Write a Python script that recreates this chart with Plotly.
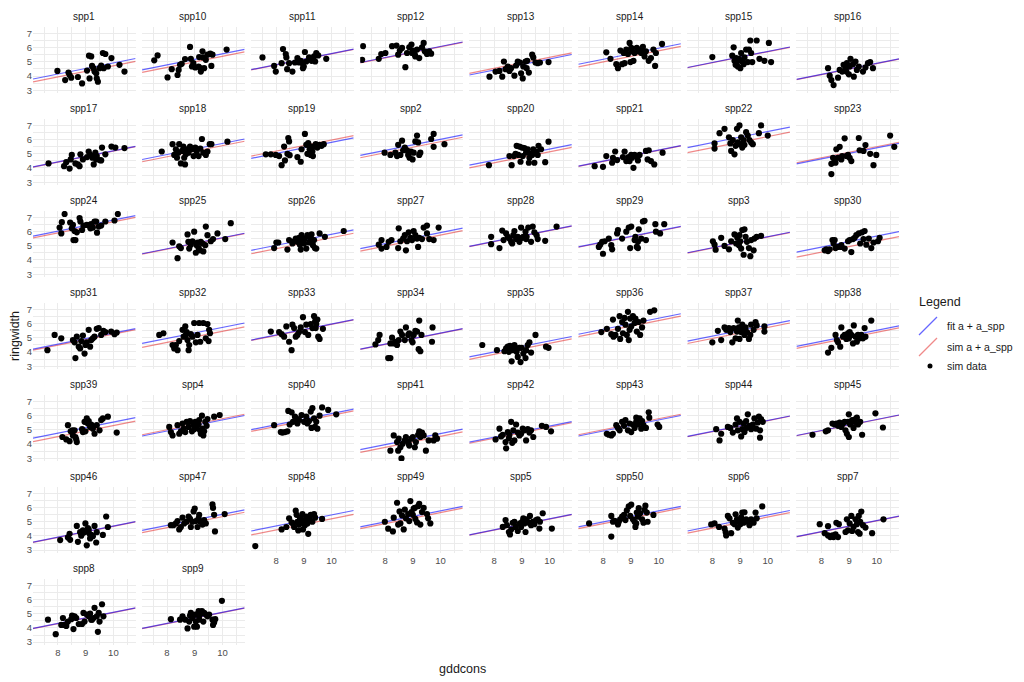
import numpy as np
import plotly.graph_objects as go
from plotly.subplots import make_subplots

# facet order (alphabetical, as in the original)
species = ["spp1", "spp10", "spp11", "spp12", "spp13", "spp14", "spp15", "spp16",
           "spp17", "spp18", "spp19", "spp2", "spp20", "spp21", "spp22", "spp23",
           "spp24", "spp25", "spp26", "spp27", "spp28", "spp29", "spp3", "spp30",
           "spp31", "spp32", "spp33", "spp34", "spp35", "spp36", "spp37", "spp38",
           "spp39", "spp4", "spp40", "spp41", "spp42", "spp43", "spp44", "spp45",
           "spp46", "spp47", "spp48", "spp49", "spp5", "spp50", "spp6", "spp7",
           "spp8", "spp9"]

# sim data: gddcons per species
gdd = [
    [7.98,8.26,8.38,8.42,8.48,8.72,8.87,9.05,9.14,9.2,9.23,9.28,9.32,9.4,9.44,9.5,9.56,9.62,9.71,9.65,9.8,9.93,10.22,10.4,9.38,9.12],
    [7.54,7.66,8.02,8.17,8.38,8.42,8.47,8.53,8.65,8.83,8.86,8.9,8.95,9.02,9.14,9.16,9.2,9.22,9.28,9.3,9.4,9.46,9.56,9.6,9.64,10.15,9.34],
    [7.51,7.93,7.99,8.2,8.25,8.35,8.37,8.4,8.47,8.59,8.68,8.77,8.83,8.89,8.95,9.0,9.04,9.09,9.19,9.28,9.37,9.41,9.45,9.52,9.81,8.97],
    [7.17,7.2,7.77,7.86,8.01,8.25,8.41,8.47,8.53,8.61,8.73,8.79,8.87,8.95,8.97,9.0,9.07,9.15,9.23,9.33,9.39,9.43,9.51,9.59,9.66,9.09],
    [7.83,8.05,8.19,8.29,8.35,8.41,8.49,8.55,8.61,8.73,8.79,8.85,8.93,8.97,9.03,9.05,9.13,9.19,9.25,9.37,9.41,9.49,9.57,9.65,9.96,9.17],
    [8.11,8.26,8.53,8.62,8.68,8.74,8.77,8.83,8.89,8.95,8.98,9.01,9.04,9.09,9.13,9.21,9.28,9.33,9.37,9.43,9.49,9.54,9.64,9.72,9.81,9.87,9.9,10.12,8.47],
    [8.0,8.72,8.77,8.8,8.84,8.89,8.92,8.96,9.01,9.04,9.08,9.13,9.16,9.22,9.28,9.32,9.37,9.4,9.44,9.6,9.7,9.88,10.04,10.12,8.86],
    [8.24,8.3,8.36,8.44,8.6,8.66,8.75,8.8,8.87,8.92,8.99,9.02,9.05,9.14,9.17,9.23,9.28,9.35,9.5,9.59,9.68,9.76,9.86,8.9],
    [7.66,8.22,8.3,8.42,8.46,8.5,8.63,8.72,8.78,8.81,8.9,9.05,9.11,9.17,9.24,9.29,9.35,9.4,9.52,9.59,9.56,9.71,9.93,10.07,10.4,9.38],
    [7.81,8.2,8.26,8.32,8.36,8.41,8.44,8.5,8.54,8.59,8.65,8.68,8.72,8.78,8.83,8.9,8.96,9.02,9.07,9.14,9.2,9.26,9.31,9.4,9.46,9.54,9.6,10.18,8.62,8.32],
    [7.63,7.81,7.99,8.11,8.2,8.29,8.32,8.41,8.44,8.47,8.49,8.77,8.89,8.92,9.04,9.09,9.13,9.16,9.21,9.25,9.28,9.33,9.37,9.43,9.49,9.57,9.64,9.72,9.31],
    [7.98,8.19,8.37,8.43,8.47,8.55,8.61,8.65,8.71,8.83,8.88,8.93,8.99,9.03,9.09,9.15,9.19,9.23,9.27,9.66,9.75,9.75,10.14,8.79],
    [7.81,8.55,8.63,8.71,8.77,8.81,8.87,8.91,8.95,9.0,9.03,9.09,9.15,9.21,9.25,9.31,9.37,9.41,9.45,9.51,9.57,9.6,9.69,9.84,9.96,9.27],
    [7.69,7.99,8.11,8.32,8.35,8.43,8.5,8.77,8.83,8.91,8.95,9.01,9.04,9.09,9.13,9.19,9.25,9.31,9.54,9.64,9.6,9.72,9.84,10.14,8.71],
    [8.08,8.08,8.26,8.44,8.6,8.65,8.68,8.74,8.8,8.84,8.89,8.92,8.98,9.04,9.08,9.13,9.16,9.22,9.28,9.34,9.4,9.46,9.68,9.76,10.0,8.98],
    [8.36,8.36,8.42,8.48,8.51,8.54,8.6,8.66,8.75,8.84,8.9,8.96,9.02,9.08,9.35,9.38,9.52,9.59,9.76,9.88,9.98,10.48,10.63,8.72],
    [8.06,8.12,8.14,8.24,8.44,8.5,8.54,8.56,8.6,8.63,8.68,8.78,8.81,8.87,8.92,9.04,9.14,9.2,9.26,9.32,9.38,9.41,9.47,9.56,9.71,10.04,10.16,9.17],
    [8.2,8.38,8.44,8.5,8.74,8.77,8.8,8.86,8.92,8.98,9.04,9.07,9.14,9.19,9.22,9.28,9.31,9.38,9.4,9.46,9.58,9.66,9.82,10.1,10.3,9.1],
    [7.93,8.01,8.08,8.41,8.47,8.59,8.65,8.71,8.77,8.83,8.86,8.89,8.92,8.97,9.01,9.04,9.09,9.13,9.19,9.25,9.28,9.33,9.4,9.45,9.57,9.76,10.44,9.37],
    [7.77,7.87,7.87,8.05,8.13,8.23,8.47,8.49,8.55,8.65,8.71,8.75,8.79,8.85,8.91,8.97,9.03,9.09,9.15,9.19,9.23,9.39,9.51,9.51,9.59,9.75,9.93,9.33],
    [7.89,7.89,8.19,8.29,8.34,8.43,8.49,8.55,8.61,8.65,8.69,8.73,8.79,8.85,8.91,8.97,9.01,9.05,9.13,9.17,9.23,9.33,9.39,9.45,9.53,9.57,9.84,10.25,9.15],
    [7.84,7.89,7.96,7.99,8.05,8.2,8.29,8.32,8.5,8.53,8.68,8.83,8.92,8.97,9.01,9.13,9.16,9.21,9.25,9.28,9.37,9.43,9.49,9.54,9.88,9.9,10.05,10.2,9.25],
    [8.02,8.08,8.12,8.32,8.44,8.6,8.68,8.8,8.86,8.9,8.96,9.01,9.04,9.08,9.13,9.16,9.2,9.25,9.32,9.37,9.4,9.49,9.52,9.6,9.76,8.98],
    [8.12,8.18,8.24,8.3,8.4,8.44,8.48,8.51,8.6,8.72,8.84,8.96,9.02,9.08,9.14,9.2,9.26,9.35,9.4,9.47,9.52,9.56,9.62,9.71,9.8,9.88,10.04,10.1,8.72],
    [7.62,7.88,8.12,8.54,8.6,8.63,8.68,8.75,8.8,8.84,8.9,8.96,8.99,9.04,9.11,9.16,9.2,9.26,9.4,9.47,9.56,9.64,9.71,9.92,10.04,10.12,9.32],
    [7.72,7.87,8.2,8.26,8.32,8.38,8.44,8.56,8.6,8.66,8.71,8.74,8.78,8.8,8.86,8.92,8.98,9.04,9.1,9.16,9.2,9.31,9.4,9.46,9.5,9.52,9.55,8.68],
    [7.81,8.11,8.2,8.29,8.37,8.47,8.56,8.59,8.65,8.71,8.77,8.83,8.89,8.97,9.04,9.09,9.16,9.25,9.31,9.37,9.41,9.45,9.49,9.52,9.57,9.69,9.43],
    [7.65,7.75,7.8,8.11,8.19,8.19,8.25,8.31,8.37,8.43,8.49,8.55,8.61,8.71,8.75,8.83,8.87,8.95,9.03,9.09,9.15,9.21,9.23,9.27,9.31,9.69,9.71,8.99],
    [7.57,8.1,8.37,8.43,8.49,8.53,8.57,8.63,8.67,8.73,8.77,8.81,8.85,8.91,8.95,8.99,9.05,9.13,9.15,9.21,9.27,9.33,9.49,9.87,9.96,8.61],
    [7.93,8.13,8.29,8.35,8.37,8.44,8.53,8.59,8.61,8.68,8.71,8.77,8.8,8.85,8.89,8.92,8.97,9.01,9.07,9.13,9.16,9.21,9.28,9.33,9.4,9.45,9.69,9.84,8.95],
    [8.0,8.2,8.32,8.44,8.5,8.6,8.65,8.72,8.77,8.84,8.89,8.92,8.96,8.98,9.04,9.08,9.13,9.16,9.2,9.25,9.32,9.37,9.4,9.49,9.56,9.6,9.88,9.88,8.98],
    [8.24,8.36,8.51,8.56,8.6,8.68,8.72,8.78,8.84,8.9,8.96,8.99,9.02,9.08,9.14,9.17,9.23,9.28,9.38,9.44,9.5,9.56,9.59,9.8,9.32],
    [8.16,8.3,8.36,8.42,8.46,8.52,8.54,8.6,8.63,8.68,8.66,8.87,8.96,8.99,9.04,9.08,9.11,9.16,9.2,9.26,9.32,9.4,9.5,9.56,9.62,9.8,10.12,8.9],
    [8.08,8.14,8.2,8.38,8.44,8.5,8.56,8.6,8.66,8.71,8.78,8.83,8.9,8.95,8.98,9.02,9.07,9.14,9.19,9.22,9.26,9.28,9.31,9.34,9.38,9.43,9.46,9.7,9.9,9.16],
    [7.93,8.17,8.23,8.32,8.41,8.44,8.49,8.56,8.61,8.68,8.73,8.77,8.83,8.92,9.01,9.09,9.13,9.19,9.25,9.28,9.31,9.37,9.4,9.49,9.57,9.66,9.88,10.17,9.45],
    [8.19,8.31,8.43,8.47,8.49,8.55,8.59,8.63,8.71,8.75,8.83,8.87,8.95,9.0,9.07,9.11,9.19,9.23,9.27,9.33,9.39,9.47,9.57,9.75,9.81,9.87,8.85],
    [8.05,8.19,8.25,8.31,8.41,8.43,8.49,8.55,8.61,8.65,8.69,8.73,8.79,8.85,8.91,8.97,9.03,9.09,9.15,9.21,9.27,9.33,9.41,9.72,9.87,10.05,8.53],
    [8.13,8.2,8.29,8.35,8.47,8.53,8.59,8.68,8.75,8.8,8.89,8.95,9.01,9.07,9.13,9.19,9.25,9.31,9.37,9.4,9.45,9.54,9.64,9.66,9.96,10.02,9.19],
    [8.14,8.26,8.32,8.56,8.65,8.74,8.84,8.89,8.92,8.98,9.04,9.08,9.13,9.16,9.22,9.28,9.34,9.4,9.46,9.52,9.58,9.64,9.68,9.72,9.72,9.76,9.82,9.22],
    [7.68,8.16,8.24,8.4,8.48,8.54,8.6,8.66,8.72,8.78,8.84,8.87,8.92,8.96,8.99,8.99,9.04,9.11,9.16,9.23,9.28,9.32,9.4,9.47,9.95,10.22,9.2],
    [8.08,8.36,8.42,8.44,8.68,8.72,8.8,8.84,8.9,8.96,8.99,9.04,9.08,9.14,9.16,9.2,9.26,9.32,9.38,9.4,9.62,9.74,9.8,9.11,8.87],
    [8.14,8.23,8.32,8.38,8.44,8.5,8.56,8.62,8.71,8.78,8.83,8.86,8.92,8.96,9.0,9.04,9.1,9.14,9.2,9.28,9.34,9.4,9.64,9.66,9.7,9.73,10.08,9.16],
    [7.25,8.2,8.37,8.47,8.56,8.61,8.65,8.71,8.74,8.77,8.8,8.83,8.86,8.92,8.97,9.01,9.04,9.09,9.13,9.16,9.21,9.25,9.31,9.37,9.41,9.66,8.95],
    [7.99,8.11,8.28,8.31,8.43,8.47,8.52,8.55,8.61,8.67,8.71,8.75,8.83,8.87,8.91,8.95,9.0,9.03,9.09,9.15,9.19,9.23,9.27,9.33,9.39,9.51,9.55,9.63,9.07],
    [8.31,8.41,8.46,8.53,8.57,8.61,8.67,8.73,8.77,8.85,8.93,9.01,9.05,9.09,9.13,9.17,9.25,9.29,9.33,9.39,9.45,9.51,9.57,9.63,9.65,9.75,10.08,8.97],
    [7.49,8.29,8.29,8.35,8.41,8.53,8.56,8.61,8.68,8.75,8.8,8.85,8.92,8.97,9.01,9.07,9.13,9.16,9.21,9.25,9.28,9.33,9.4,9.45,9.49,9.52,9.57,9.6,9.81,9.19],
    [7.96,8.08,8.24,8.44,8.48,8.5,8.56,8.62,8.68,8.74,8.8,8.84,8.89,8.92,8.98,9.04,9.08,9.13,9.16,9.22,9.28,9.34,9.4,9.49,9.56,9.6,9.8,9.01],
    [7.94,8.12,8.24,8.24,8.32,8.4,8.44,8.51,8.54,8.6,8.63,8.87,8.92,8.96,9.02,9.08,9.11,9.16,9.23,9.28,9.32,9.35,9.4,9.44,9.5,9.59,9.83,10.24,9.38],
    [7.64,7.92,8.18,8.12,8.24,8.3,8.36,8.48,8.51,8.56,8.6,8.66,8.75,8.87,8.92,8.96,9.04,9.11,9.16,9.23,9.28,9.32,9.4,9.44,9.47,9.5,9.59,9.64,9.2],
    [8.14,8.47,8.56,8.66,8.74,8.8,8.83,8.86,8.92,8.98,9.02,9.04,9.08,9.14,9.16,9.22,9.26,9.31,9.34,9.4,9.46,9.52,9.64,9.66,9.7,9.74,9.98,9.16],
]

# sim data: ringwidth per species
ring = [
    [4.36,3.71,4.24,4.07,3.88,3.93,3.48,4.38,3.83,5.38,4.71,4.55,4.31,3.83,3.6,4.55,4.74,5.62,5.55,4.55,4.67,5.26,4.79,4.31,4.19,5.43],
    [5.1,5.45,3.9,4.48,4.07,4.43,4.79,4.86,5.19,6.05,5.21,4.67,4.9,4.6,4.67,5.33,4.55,4.31,5.74,5.31,5.14,5.5,5.57,4.71,5.5,5.86,4.55],
    [5.31,4.71,4.31,4.9,5.9,5.55,5.31,4.48,4.9,4.31,4.95,5.26,4.95,5.07,4.9,4.67,5.69,5.02,5.31,5.07,5.38,5.02,5.62,5.45,5.21,4.55],
    [5.14,6.1,5.21,5.55,5.62,6.1,6.14,5.5,5.79,5.98,4.62,5.62,6.02,6.21,5.62,5.79,5.5,5.86,5.26,6.02,6.33,5.74,5.55,5.74,5.57,5.38],
    [3.95,4.31,4.36,3.95,5.02,4.48,4.67,4.36,4.55,4.02,4.74,5.02,4.95,4.19,3.83,4.67,5.02,5.07,4.24,5.5,5.31,4.95,4.9,4.95,4.98,4.55],
    [5.67,5.21,4.55,5.79,4.83,5.62,4.9,5.86,5.55,6.33,4.98,5.98,5.74,5.07,5.62,5.98,5.74,5.86,5.62,6.05,5.38,5.74,5.07,5.26,5.86,4.71,5.62,6.26,4.83],
    [5.33,5.43,6.02,5.07,4.79,4.98,4.67,5.21,4.55,5.62,5.02,4.83,5.31,5.86,4.98,5.86,6.5,5.62,4.98,6.5,5.21,5.07,6.33,4.98,5.26],
    [4.55,4.02,3.71,3.36,3.88,4.43,4.31,4.79,4.55,4.9,4.12,4.67,5.21,4.83,3.95,5.02,4.43,4.67,4.31,4.6,4.9,4.98,4.55,4.31],
    [4.32,4.13,4.41,3.96,4.6,4.92,4.32,4.25,4.13,4.96,4.6,4.77,5.16,4.92,4.72,4.25,5.08,4.84,4.55,5.44,4.53,4.96,5.51,5.44,5.4,4.6],
    [5.16,5.68,4.92,5.32,4.72,5.08,5.68,4.32,5.2,5.51,4.25,4.96,5.32,5.08,5.51,5.32,4.84,5.44,5.16,4.84,5.37,6.04,5.08,4.92,5.16,5.68,5.68,5.85,4.72,5.0],
    [4.96,4.96,4.92,4.84,4.2,5.51,4.53,5.0,6.11,5.87,4.9,4.77,4.44,5.32,6.4,5.63,5.0,5.75,5.32,4.92,5.51,4.84,5.51,5.68,5.44,5.63,5.56,5.68,5.16],
    [5.08,4.92,5.08,4.84,5.63,4.92,5.92,5.25,5.44,4.92,4.72,5.16,4.6,5.08,5.87,6.28,5.8,4.92,5.08,6.04,6.4,5.49,5.68,5.25],
    [4.2,4.84,4.2,4.84,5.0,5.56,4.92,5.51,4.44,5.44,4.84,5.4,5.08,5.32,4.37,5.0,4.92,5.32,4.37,5.16,4.92,5.56,5.32,4.41,5.85,4.72],
    [4.13,4.08,4.84,4.37,4.72,5.16,4.56,5.16,4.49,4.77,4.49,4.92,4.72,4.01,4.92,4.84,4.53,4.92,5.2,5.25,4.6,4.49,4.25,5.08,4.77],
    [5.73,5.37,6.45,6.76,6.16,5.73,5.2,5.97,4.96,5.56,6.76,5.8,7.0,6.16,5.44,5.97,5.63,6.52,6.28,5.97,5.8,5.68,6.45,7.0,6.28,5.68],
    [3.57,4.29,4.72,4.6,4.37,5.32,4.72,5.49,4.84,6.09,4.84,4.92,4.72,4.49,6.11,5.25,5.2,5.61,5.0,4.2,4.92,6.28,5.49,4.6],
    [6.28,5.87,6.66,7.24,6.64,6.23,6.47,5.4,6.04,5.4,5.95,6.95,6.71,6.11,6.42,6.47,6.47,6.52,6.28,6.71,6.71,5.92,6.35,6.42,6.71,6.78,7.24,6.23],
    [5.23,4.13,4.96,4.84,5.8,5.28,4.8,5.08,5.32,5.99,4.51,5.04,4.84,4.68,5.28,5.16,4.6,5.04,6.35,5.75,5.32,5.47,5.87,5.47,6.59,5.23],
    [4.84,5.23,5.23,4.73,5.4,5.16,5.32,5.51,5.28,5.56,5.08,4.73,5.75,5.32,5.16,5.51,4.8,5.75,5.23,5.51,5.8,5.04,4.84,4.8,5.87,5.63,6.04,5.4],
    [5.08,5.4,4.8,4.92,5.28,5.4,4.84,6.23,5.32,5.51,5.75,4.68,5.32,5.95,5.56,5.4,6.04,5.75,5.51,4.92,5.56,6.28,6.42,5.87,5.47,5.4,6.28,5.47],
    [5.63,5.11,4.84,6.07,5.4,5.87,5.63,5.51,5.28,5.16,5.75,6.04,5.47,5.63,5.28,6.28,5.56,5.63,5.99,5.63,6.28,5.28,6.35,5.95,5.75,5.47,5.35,6.35,5.47],
    [4.92,5.08,5.28,4.44,5.32,5.51,5.04,4.75,5.87,6.11,5.51,5.99,6.28,4.84,6.35,5.4,5.63,4.92,4.84,6.16,5.51,6.71,6.76,5.4,6.52,5.99,5.87,6.52,5.28],
    [5.32,5.08,4.72,5.56,4.99,4.75,5.32,5.8,5.16,5.56,5.04,5.32,4.8,6.11,4.37,6.16,5.63,5.28,4.84,4.27,5.4,4.68,5.51,5.63,5.7,5.75],
    [4.68,4.75,4.63,4.75,5.4,5.16,5.4,4.84,4.92,4.92,4.8,5.32,5.4,4.56,5.47,5.56,5.75,5.87,5.16,5.95,5.47,6.04,5.08,5.51,4.84,5.23,5.32,5.56,5.04],
    [4.13,5.2,4.96,4.84,4.68,3.57,5.08,4.37,4.25,4.77,5.16,3.89,4.49,4.68,5.56,4.37,4.84,4.96,5.63,5.68,5.2,5.49,5.4,5.44,5.25,5.37,5.08],
    [5.2,5.32,4.49,4.25,4.49,4.13,4.77,5.56,5.08,5.8,5.4,4.84,4.13,4.49,5.25,5.08,6.04,4.68,5.2,6.04,4.72,6.04,4.96,5.97,4.77,5.56,5.32,5.2],
    [5.44,5.4,5.25,5.08,5.8,4.72,4.13,5.92,5.68,5.08,5.2,5.4,5.73,6.45,5.4,5.92,5.2,5.97,5.68,6.52,6.16,5.97,6.28,5.08,4.92,5.63,5.68],
    [4.53,4.84,5.2,3.57,3.57,4.6,5.01,4.6,4.72,4.49,4.84,5.44,5.2,4.84,5.73,5.2,5.32,4.84,5.2,5.49,5.44,4.2,6.21,4.05,5.2,4.72,5.73,4.68],
    [4.49,4.13,4.05,4.25,4.37,4.01,4.44,3.34,4.13,4.49,4.29,4.01,3.65,4.29,3.29,4.29,3.89,3.57,4.13,4.49,4.68,3.96,5.2,4.37,4.29,4.2],
    [5.4,5.63,5.25,6.28,5.08,5.2,5.63,6.52,4.92,6.11,5.32,6.4,5.92,5.2,6.83,4.84,6.35,5.8,6.52,6.04,6.35,5.44,6.11,5.2,5.73,6.21,6.83,6.93,5.56],
    [4.68,5.49,4.84,5.73,5.56,5.68,5.4,4.68,5.68,4.96,5.44,6.21,5.73,4.92,5.4,5.92,5.56,5.2,5.73,5.4,4.92,5.2,5.92,5.56,6.11,5.87,5.8,5.44,5.49],
    [3.96,4.29,5.2,4.84,4.68,4.37,5.73,5.08,5.2,4.92,5.32,4.96,5.4,5.2,4.6,5.87,5.08,4.72,4.96,5.2,4.96,5.68,5.08,6.21,5.2],
    [4.49,4.32,5.32,4.2,4.89,4.96,4.6,4.96,4.49,4.13,4.32,5.04,5.56,4.89,5.8,5.44,5.61,5.2,5.37,5.08,4.72,5.32,4.96,5.68,5.8,5.92,4.8,4.84],
    [5.2,4.84,4.6,5.32,4.72,4.89,5.44,5.08,4.84,5.56,5.2,5.61,4.89,5.37,5.04,5.56,5.2,5.37,4.96,4.72,5.99,5.08,4.6,4.89,5.56,5.28,5.75,5.92,6.04,5.68],
    [5.32,4.84,4.8,4.84,4.89,6.33,5.37,6.23,5.56,5.92,5.8,5.44,5.68,6.04,5.56,5.92,5.44,5.61,6.28,5.13,6.52,5.8,5.2,5.08,5.99,6.57,6.4,6.09,5.56],
    [3.53,4.6,4.13,3.53,4.37,3.77,2.98,4.01,4.25,4.49,4.17,3.89,4.37,4.49,3.77,4.13,4.65,4.89,4.49,4.8,4.6,3.53,4.25,4.25,4.6,4.37,4.01],
    [4.32,5.08,4.53,4.65,4.13,3.69,4.84,4.65,5.56,4.08,4.96,4.25,5.37,4.8,4.6,4.72,5.08,4.96,4.25,5.04,4.8,4.96,4.49,5.28,5.2,4.89,4.41],
    [4.72,4.65,4.6,4.72,5.32,5.13,4.96,5.56,5.28,5.68,4.96,5.44,4.84,5.37,5.13,5.85,5.37,5.8,5.08,5.61,5.32,5.13,6.23,5.85,5.37,5.2,5.56],
    [5.04,4.25,4.72,5.2,5.13,4.8,5.37,5.8,4.96,5.56,4.53,5.04,5.44,4.84,5.61,6.09,5.28,5.04,5.37,5.8,5.08,5.51,5.92,4.96,4.44,5.75,5.56,5.13],
    [4.65,4.89,4.96,5.44,5.37,5.44,5.28,5.51,5.2,5.44,5.56,4.96,4.72,5.56,6.09,4.49,5.37,5.68,5.13,5.75,5.85,5.37,5.56,4.65,6.16,5.16,5.56],
    [3.71,3.9,4.15,3.73,4.71,3.59,4.27,4.02,4.39,4.27,4.88,3.34,4.56,4.15,3.83,4.07,3.98,4.71,3.54,4.27,4.07,5.37,4.63,4.46,4.15],
    [4.76,4.76,4.88,5.05,4.46,4.63,5.29,4.88,5.0,5.37,5.2,4.63,5.0,5.73,5.93,5.05,4.63,5.24,5.0,4.8,5.12,4.88,6.22,5.98,5.49,4.32,5.54,5.49],
    [3.29,4.46,4.63,5.24,4.95,4.88,4.63,5.78,5.49,5.0,4.39,4.8,5.29,4.95,4.46,5.12,4.76,5.37,4.88,4.15,5.2,5.49,5.0,5.54,5.29,5.2,5.54],
    [5.0,4.51,4.32,5.29,6.34,4.8,5.73,4.88,5.44,4.46,5.85,5.24,5.54,5.05,6.46,5.68,5.49,5.93,5.2,4.95,6.1,6.27,4.8,5.68,5.98,5.54,5.24,4.88,5.98],
    [4.64,5.12,4.76,4.28,4.11,4.45,4.93,5.0,4.64,4.35,4.88,5.0,5.24,4.88,4.28,5.17,4.93,5.41,4.76,5.0,4.83,5.12,5.17,4.52,5.0,5.6,4.52,4.64],
    [4.88,5.41,3.96,5.0,5.07,4.81,5.0,5.17,5.36,5.48,5.12,5.8,6.08,5.41,6.2,5.17,5.0,4.64,5.65,5.36,5.96,5.6,5.17,4.93,5.84,6.13,5.65,5.0,5.48,4.88],
    [4.81,4.88,4.64,4.52,4.28,4.04,5.41,5.24,4.2,4.93,4.83,5.53,5.17,4.59,5.0,5.31,5.65,4.93,5.67,5.17,5.0,4.76,5.17,4.93,5.65,5.24,6.08,4.83],
    [4.83,4.2,4.69,4.04,3.92,4.04,3.92,4.11,4.93,3.92,4.83,4.28,5.17,4.4,4.88,5.41,4.35,4.64,5.17,4.83,4.28,5.41,5.0,5.72,4.76,4.59,4.2,5.17,4.16],
    [4.58,3.56,4.7,4.21,4.21,4.14,4.45,4.62,4.87,3.92,4.82,4.7,4.28,4.28,5.06,4.45,4.94,4.82,5.01,4.58,4.7,5.42,4.82,3.73,5.06,4.45,5.67,4.82,4.58],
    [4.62,4.58,4.82,4.58,3.97,4.45,4.87,5.06,4.7,4.09,4.94,4.45,4.09,5.18,4.82,5.01,5.18,4.45,5.06,4.94,4.82,4.94,4.58,4.21,4.38,4.62,5.91,4.58],
]

# intercepts (a + a_spp) and common slope for the fitted and simulated lines
fit_a = [1.02, 1.66, 1.68, 2.18, 1.30, 2.06, 1.83, 0.99,
         1.31, 1.83, 1.91, 2.12, 1.43, 1.36, 2.67, 1.52,
         2.91, 1.67, 1.91, 2.03, 2.19, 2.15, 1.74, 1.79,
         1.43, 1.83, 2.07, 1.43, 0.88, 2.48, 2.00, 1.63,
         1.64, 1.79, 2.24, 0.83, 1.36, 1.79, 1.76, 1.83,
         0.80, 1.63, 1.58, 1.87, 1.31, 1.87, 1.58, 1.19,
         1.20, 1.20]
sim_a = [0.82, 1.49, 1.66, 2.16, 1.42, 1.87, 1.81, 0.97,
         1.29, 1.67, 2.07, 1.95, 1.24, 1.34, 2.31, 1.60,
         2.79, 1.64, 1.67, 1.86, 2.17, 2.13, 1.72, 1.43,
         1.36, 1.55, 2.05, 1.41, 0.71, 2.31, 1.83, 1.48,
         1.40, 1.88, 2.12, 0.64, 1.28, 1.88, 1.74, 1.81,
         0.78, 1.46, 1.31, 1.75, 1.29, 1.75, 1.43, 1.17,
         1.18, 1.18]
fit_b = 0.39
sim_b = 0.39

for g, r in zip(gdd, ring):
    assert len(g) == len(r), (len(g), len(r))

X_RANGE = [7.1, 10.8]
Y_RANGE = [2.8, 7.45]
NROW, NCOL = 7, 8

specs = [[{} for _ in range(NCOL)] for _ in range(NROW)]
for c in range(len(species) - (NROW - 1) * NCOL, NCOL):
    specs[NROW - 1][c] = None

fig = make_subplots(rows=NROW, cols=NCOL, specs=specs, subplot_titles=species,
                    horizontal_spacing=0.0075, vertical_spacing=0.042)

FIT_COL = "rgba(0,0,255,0.6)"
SIM_COL = "rgba(225,20,20,0.5)"

xl = np.array(X_RANGE)
for i, sp in enumerate(species):
    r, c = i // NCOL + 1, i % NCOL + 1
    fig.add_trace(go.Scatter(x=xl, y=sim_a[i] + sim_b * xl, mode="lines",
                             line=dict(color=SIM_COL, width=1.2),
                             hoverinfo="skip", showlegend=False), row=r, col=c)
    fig.add_trace(go.Scatter(x=xl, y=fit_a[i] + fit_b * xl, mode="lines",
                             line=dict(color=FIT_COL, width=1.2),
                             hoverinfo="skip", showlegend=False), row=r, col=c)
    fig.add_trace(go.Scatter(x=gdd[i], y=ring[i], mode="markers",
                             marker=dict(color="black", size=6.2),
                             name=sp, showlegend=False), row=r, col=c)

GRID = "#EBEBEB"
fig.update_xaxes(range=X_RANGE, tickvals=[8, 9, 10], showticklabels=False,
                 showgrid=True, gridcolor=GRID, gridwidth=1, automargin=False,
                 minor=dict(tickvals=[7.5, 8.5, 9.5, 10.5], showgrid=True,
                            gridcolor=GRID, gridwidth=0.5),
                 zeroline=False, showline=False, ticks="",
                 tickfont=dict(size=9.5, color="#4D4D4D"))
fig.update_yaxes(range=Y_RANGE, tickvals=[3, 4, 5, 6, 7], showticklabels=False,
                 showgrid=True, gridcolor=GRID, gridwidth=1, automargin=False,
                 minor=dict(tickvals=[3.5, 4.5, 5.5, 6.5], showgrid=True,
                            gridcolor=GRID, gridwidth=0.5),
                 zeroline=False, showline=False, ticks="",
                 tickfont=dict(size=9.5, color="#4D4D4D"))

for i in range(len(species)):
    r, c = i // NCOL + 1, i % NCOL + 1
    if i + NCOL >= len(species):
        fig.update_xaxes(showticklabels=True, row=r, col=c)
    if c == 1:
        fig.update_yaxes(showticklabels=True, row=r, col=c)

# facet strip labels
fig.update_annotations(font=dict(size=10, color="#1A1A1A"), yshift=3)

# legend and axis titles are placed in page pixels; px/py map them to paper units
def px(x):
    return (x - 33) / 866

def py(y):
    return 1 - (y - 27) / 618

fig.add_annotation(text="gddcons", x=px(462), y=py(669), xref="paper", yref="paper",
                   xanchor="center", yanchor="middle", showarrow=False,
                   font=dict(size=12.5, color="#1A1A1A"))
fig.add_annotation(text="ringwidth", x=px(15), y=py(336), xref="paper", yref="paper",
                   xanchor="center", yanchor="middle", showarrow=False, textangle=-90,
                   font=dict(size=12.5, color="#1A1A1A"))

fig.add_annotation(text="Legend", x=px(917), y=py(302), xref="paper", yref="paper",
                   xanchor="left", yanchor="middle", showarrow=False,
                   font=dict(size=12.5, color="#1A1A1A"))
legend_items = [("fit a + a_spp", FIT_COL, 326), ("sim a + a_spp", SIM_COL, 347)]
for label, col, yc in legend_items:
    fig.add_shape(type="line", xref="paper", yref="paper",
                  x0=px(919), y0=py(yc + 9), x1=px(937), y1=py(yc - 9),
                  line=dict(color=col, width=1.2))
    fig.add_annotation(text=label, x=px(945), y=py(yc), xref="paper", yref="paper",
                       xanchor="left", yanchor="middle", showarrow=False,
                       font=dict(size=10.5, color="#1A1A1A"))
fig.add_shape(type="circle", xref="paper", yref="paper", fillcolor="black",
              line=dict(color="black", width=0),
              x0=px(927.5), x1=px(932.5), y0=py(368.5), y1=py(363.5))
fig.add_annotation(text="sim data", x=px(945), y=py(366), xref="paper", yref="paper",
                   xanchor="left", yanchor="middle", showarrow=False,
                   font=dict(size=10.5, color="#1A1A1A"))

# the page body sits 8px in from the window corner; margins are shifted to match
fig.update_layout(width=1024, height=682,
                  margin=dict(l=25, r=133, t=19, b=45),
                  paper_bgcolor="white", plot_bgcolor="white",
                  font=dict(family="Liberation Sans, Arial, sans-serif"),
                  showlegend=False)

fig.write_html("out.html")
